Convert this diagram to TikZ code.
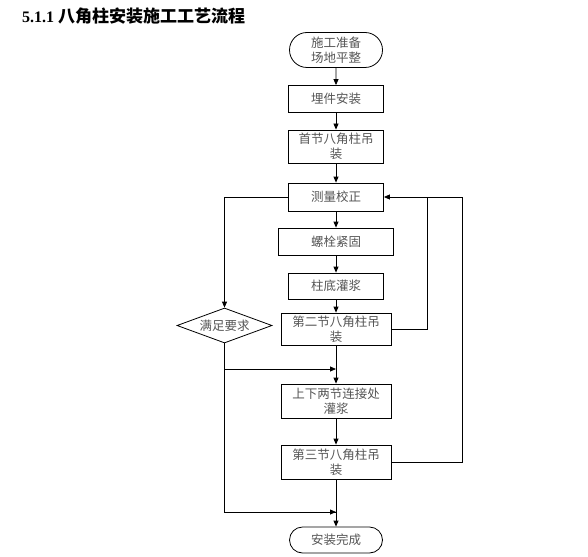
\documentclass[tikz,border=0pt]{standalone}
\usepackage{fontspec}
\setmainfont{Liberation Serif}
\newfontfamily\cjk{Noto Sans CJK SC}
\definecolor{boxtext}{RGB}{85,85,85}
\usetikzlibrary{arrows.meta, positioning, shapes.geometric, shapes.misc}

\begin{document}
\begin{tikzpicture}[x=1pt, y=-1pt,
      stepbox/.style={draw, line width=0.8pt, minimum width=95pt, minimum height=27pt, align=center, inner sep=1pt,
        text=boxtext, font=\cjk\fontsize{12.5}{15.5}\selectfont},
      term/.style={stepbox, rounded rectangle, minimum height=26pt},
      check/.style={draw, line width=0.8pt, diamond, aspect=2.7, inner sep=0pt, minimum width=95pt, minimum height=35pt,
        text=boxtext, font=\cjk\fontsize{12.5}{15}\selectfont},
      arr/.style={-{Triangle[length=6pt, width=5pt]}, line width=0.8pt},
      ln/.style={line width=0.8pt}
    ]
      \useasboundingbox (0,0) rectangle (588,556);

      % title
      \node[anchor=west, inner sep=0pt, font=\bfseries\fontsize{16}{18}\selectfont] (title) at (22,16)
        {5.1.1 {\cjk\fontsize{17}{18}\selectfont 八角柱安装施工工艺流程}};

      % main column
      \node[term, minimum height=35pt] (prep) at (336,50) {施工准备\\场地平整};
      \node[stepbox] (embed) at (336,99) {埋件安装};
      \node[stepbox, minimum height=33pt] (first) at (336,146.5) {首节八角柱吊\\装};
      \node[stepbox, minimum height=28pt] (survey) at (336,197) {测量校正};
      \node[stepbox, minimum width=115pt] (bolt) at (336,241.5) {螺栓紧固};
      \node[stepbox, minimum height=26pt] (grout) at (336,286) {柱底灌浆};
      \node[stepbox, minimum width=110pt, minimum height=32pt] (second) at (336,329) {第二节八角柱吊\\装};
      \node[stepbox, minimum width=110pt, minimum height=34pt] (joint) at (336,401) {上下两节连接处\\灌浆};
      \node[stepbox, minimum width=110pt, minimum height=34pt] (third) at (336,462) {第三节八角柱吊\\装};
      \node[term] (done) at (336,540) {安装完成};

      % check on the left
      \node[check] (ok) at (224.5,325.5) {满足要求};

      \coordinate (loopa) at (427,197);
      \coordinate (loopb) at (462,197);
      \coordinate (mergea) at (336,369);
      \coordinate (mergeb) at (336,512);

      \draw[arr] (prep) -- (embed);
      \draw[arr] (embed) -- (first);
      \draw[arr] (first) -- (survey);
      \draw[arr] (survey) -- (bolt);
      \draw[arr] (bolt) -- (grout);
      \draw[arr] (grout) -- (second);
      \draw[arr] (second) -- (joint);
      \draw[arr] (joint) -- (third);
      \draw[arr] (third) -- (done);

      % back loops to the survey
      \draw[arr] (second.east) -| (loopa) -- (survey.east);
      \draw[ln] (third.east) -| (loopb) -- (loopa);

      % check branch
      \draw[arr] (survey.west) -| (ok.north);
      \draw[ln] (ok.south) |- (mergeb);
      \draw[arr] (ok.south |- mergea) -- (mergea);
      \draw[arr] (ok.south |- mergeb) -- (mergeb);
    \end{tikzpicture}
\end{document}
